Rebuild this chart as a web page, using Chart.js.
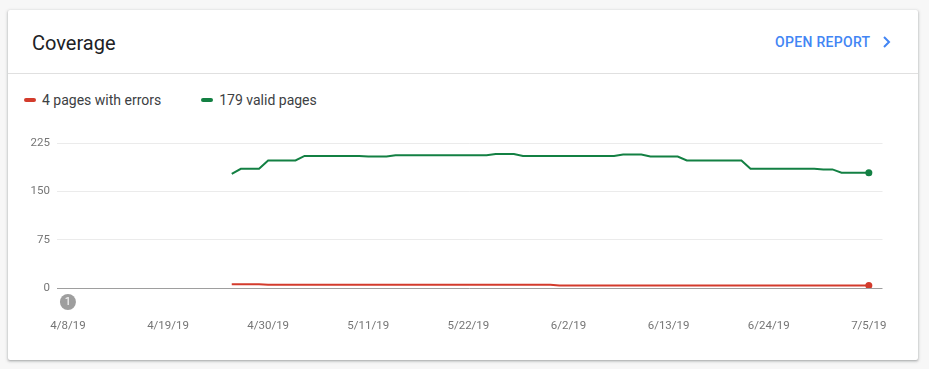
<!DOCTYPE html>
<html>
<head>
<meta charset="utf-8">
<script src="https://cdn.jsdelivr.net/npm/chart.js@4"></script>
<style>
  body { margin: 0; background: #f7f7f7; font-family: Roboto, sans-serif; }
  .card {
    position: absolute; left: 8px; top: 10px; width: 910px; height: 350px;
    background: #fff; border-radius: 2px;
    box-shadow: 0 1px 2px rgba(60,64,67,.3), 0 1px 3px 1px rgba(60,64,67,.15);
  }
  .title { position: absolute; left: 24px; top: 21px; font-size: 20px; line-height: 24px; color: #202124; }
  .open {
    position: absolute; left: 767px; top: 22px; font-size: 14px; line-height: 20px;
    font-weight: 500; letter-spacing: 0.3px; color: #4285f4;
  }
  .chev { position: absolute; left: 871px; top: 24px; }
  .divider { position: absolute; left: 0; top: 63px; width: 100%; height: 1px; background: #e0e0e0; }
  .legend { position: absolute; left: 16px; top: 80px; display: flex; font-size: 14px; line-height: 20px; color: #3c4043; }
  .legend .item { display: flex; align-items: center; margin-right: 40px; }
  .legend .dash { width: 12px; height: 4px; border-radius: 2px; margin-right: 6px; }
  #wrap { position: absolute; left: 0; top: 110px; }
</style>
</head>
<body>
<div class="card">
  <div class="title">Coverage</div>
  <div class="open">OPEN REPORT</div>
  <svg class="chev" width="14" height="16"><polyline points="5,3 10,8 5,13" fill="none" stroke="#4285f4" stroke-width="2"/></svg>
  <div class="divider"></div>
  <div class="legend" id="legend"></div>
  <div id="wrap"><canvas id="chart" width="910" height="230"></canvas></div>
</div>
<script>
// x axis ticks, one every 11 days
const tickLabels = ['4/8/19', '4/19/19', '4/30/19', '5/11/19', '5/22/19', '6/2/19', '6/13/19', '6/24/19', '7/5/19'];

// daily series, first value on seriesStart
const seriesStart = '4/26/19';
const seriesNames = ['4 pages with errors', '179 valid pages'];

const errorPages = [
  6, 6, 6, 6,
  5, 5, 5, 5, 5, 5, 5, 5, 5, 5, 5, 5, 5, 5, 5, 5,
  5, 5, 5, 5, 5, 5, 5, 5, 5, 5, 5, 5, 5, 5, 5, 5,
  4, 4, 4, 4, 4, 4, 4, 4, 4, 4, 4, 4, 4, 4, 4, 4, 4, 4,
  4, 4, 4, 4, 4, 4, 4, 4, 4, 4, 4, 4, 4, 4, 4, 4, 4
];

const validPages = [
  177,
  185, 185, 185,
  198, 198, 198, 198,
  205, 205, 205, 205, 205, 205, 205,
  204, 204, 204,
  206, 206, 206, 206, 206, 206, 206, 206, 206, 206, 206,
  208, 208, 208,
  205, 205, 205, 205, 205, 205, 205, 205, 205, 205, 205,
  207, 207, 207,
  204, 204, 204, 204,
  198, 198, 198, 198, 198, 198, 198,
  185, 185, 185, 185, 185, 185, 185, 185,
  184, 184,
  179, 179, 179, 179
];

const yTicks = [0, 75, 150, 225];

// grey marker under the axis
const annotationDate = '4/8/19';
const annotationText = '1';

const colors = ['#d33b2c', '#138043'];

function dayNum(s) {
  const p = s.split('/').map(Number);
  return Date.UTC(2000 + p[2], p[0] - 1, p[1]) / 86400000;
}
const origin = dayNum(tickLabels[0]);
const offset = d => dayNum(d) - origin;

function toPoints(arr) {
  const s = offset(seriesStart);
  return arr.map((v, i) => ({ x: s + i, y: v }));
}

const legend = document.getElementById('legend');
seriesNames.forEach((name, i) => {
  legend.innerHTML += `<div class="item"><div class="dash" style="background:${colors[i]}"></div>${name}</div>`;
});

const lastDot = ctx => ctx.dataIndex === ctx.dataset.data.length - 1 ? 3.5 : 0;

const badge = {
  id: 'badge',
  afterDatasetsDraw(chart) {
    const c = chart.ctx;
    const x = chart.scales.x.getPixelForValue(offset(annotationDate));
    const y = chart.chartArea.bottom + 14;
    c.save();
    c.fillStyle = '#9e9e9e';
    c.beginPath();
    c.arc(x, y, 8, 0, Math.PI * 2);
    c.fill();
    c.fillStyle = '#fff';
    c.font = '11px Roboto';
    c.textAlign = 'center';
    c.textBaseline = 'middle';
    c.fillText(annotationText, x, y + 0.5);
    c.restore();
  }
};

new Chart(document.getElementById('chart'), {
  type: 'line',
  data: {
    datasets: [
      {
        label: seriesNames[0], data: toPoints(errorPages),
        borderColor: colors[0], backgroundColor: colors[0],
        borderWidth: 2, pointRadius: lastDot, pointBorderWidth: 0, tension: 0
      },
      {
        label: seriesNames[1], data: toPoints(validPages),
        borderColor: colors[1], backgroundColor: colors[1],
        borderWidth: 2, pointRadius: lastDot, pointBorderWidth: 0, tension: 0
      }
    ]
  },
  options: {
    responsive: false,
    animation: false,
    layout: { padding: { left: 0, right: 30, top: 23, bottom: 16 } },
    plugins: { legend: { display: false }, tooltip: { enabled: false } },
    scales: {
      x: {
        type: 'linear',
        min: -1.2,
        max: 89.5,
        afterBuildTicks: s => { s.ticks = tickLabels.map(t => ({ value: offset(t) })); },
        afterFit: s => { s.height = 46; },
        grid: { display: false, drawTicks: false },
        border: { display: false },
        ticks: {
          autoSkip: false, maxRotation: 0, padding: 31,
          color: '#757575', font: { family: 'Roboto', size: 11.5 },
          callback: (v, i) => tickLabels[i]
        }
      },
      y: {
        min: 0,
        max: 225,
        afterBuildTicks: s => { s.ticks = yTicks.map(v => ({ value: v })); },
        afterFit: s => { s.width = 49; },
        grid: {
          drawTicks: false,
          color: ctx => ctx.tick && ctx.tick.value === 0 ? '#9e9e9e' : '#ebebeb'
        },
        border: { display: false },
        ticks: { padding: 7, color: '#757575', font: { family: 'Roboto', size: 11.5 } }
      }
    }
  },
  plugins: [badge]
});
</script>
</body>
</html>
